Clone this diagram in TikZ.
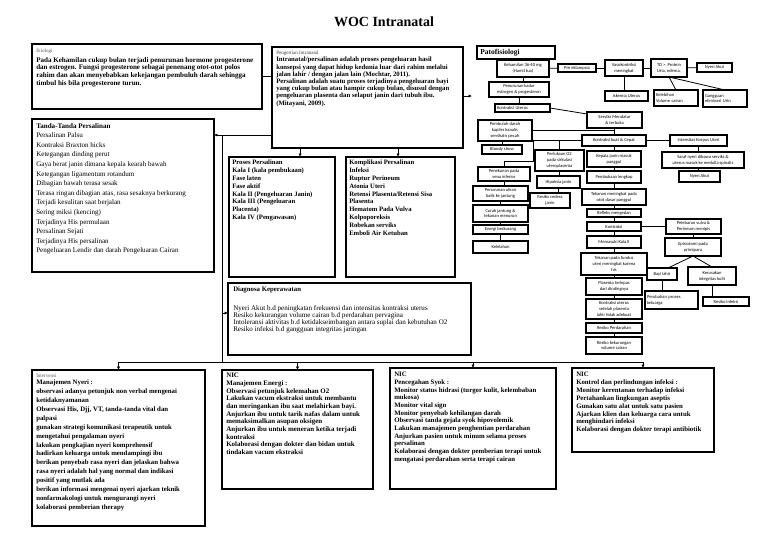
\documentclass[tikz,border=0pt]{standalone}
\usepackage{fontspec}
\setmainfont{Liberation Serif}
\newfontfamily\calib{Carlito}
\usetikzlibrary{arrows.meta,calc}
\tikzset{
  bx/.style={draw=black, line width=0.85pt, inner sep=0pt, outer sep=0pt},
  pb/.style={draw=black, line width=0.9pt, inner sep=0pt, outer sep=0pt, align=center,
     font=\calib\fontsize{3.4}{4.4}\selectfont},
  tx/.style={anchor=north west, inner sep=0pt, align=left},
  cn/.style={draw=black, line width=0.6pt},
  arr/.style={cn, -{Latex[length=2.6pt,width=2.4pt]}},
}
\newcommand\BX[5]{%
  \pgfmathsetmacro\BXw{(#4-#2)*0.75}%
  \pgfmathsetmacro\BXh{(#5-#3)*0.75}%
  \node[bx, minimum width=\BXw pt, minimum height=\BXh pt] (#1) at ({(#2+#4)/2},{(#3+#5)/2}) {};}
\newcommand\PB[6]{%
  \pgfmathsetmacro\PBw{(#4-#2)*0.75}%
  \pgfmathsetmacro\PBh{(#5-#3)*0.75}%
  \node[pb, minimum width=\PBw pt, minimum height=\PBh pt] (#1) at ({(#2+#4)/2},{(#3+#5)/2}) {#6};}
\newcommand\PBL[6]{%
  \pgfmathsetmacro\PBw{(#4-#2)*0.75}%
  \pgfmathsetmacro\PBh{(#5-#3)*0.75}%
  \pgfmathsetmacro\PBt{(#4-#2)*0.75-3}%
  \node[pb, align=left, text width=\PBt pt, minimum width=\PBw pt, minimum height=\PBh pt] (#1) at ({(#2+#4)/2},{(#3+#5)/2}) {#6};}
\begin{document}
\begin{tikzpicture}[x=0.75pt,y=-0.75pt]
\useasboundingbox (0,0) rectangle (768,543);
\fill[white] (0,0) rectangle (768,543);

\node[font=\fontsize{10.5}{12.5}\selectfont\bfseries] (title) at (384,22) {WOC Intranatal};

% ---------- Etiologi
\BX{etio}{32}{44}{262}{109}
\node[tx, font=\fontsize{3.8}{4.5}\selectfont, text=black!65] (etiol) at (36,49) {Etiologi};
\node[tx, font=\fontsize{5.3}{5.8}\selectfont\bfseries] (etiot) at (36,57) {Pada Kehamilan cukup bulan terjadi penurunan hormone progesterone\\dan estrogen. Fungsi progesterone sebagai penenang otot-otot polos\\rahim dan akan menyebabkan kekejangan pembuluh darah sehingga\\timbul his bila progesterone turun.};

% ---------- Pengertian
\BX{peng}{272}{47}{463}{148}
\node[tx, font=\fontsize{3.8}{4.5}\selectfont, text=black!75] (pengl) at (276,51) {Pengertian Intranatal};
\node[tx, font=\fontsize{5.05}{5.4}\selectfont\bfseries] (pengt) at (276,57) {Intranatal/persalinan adalah proses pengeluaran hasil\\konsepsi yang dapat hidup kedunia luar dari rahim melalui\\jalan lahir / dengan jalan lain (Mochtar, 2011).\\Persalinan adalah suatu proses terjadinya pengeluaran bayi\\yang cukup bulan atau hampir cukup bulan, disusul dengan\\pengeluaran plasenta dan selaput janin dari tubuh ibu.\\(Mitayani, 2009).};

% ---------- Tanda-tanda
\BX{tanda}{32}{119}{214}{272}
\node[tx, font=\fontsize{5.3}{7.2}\selectfont] (tandat) at (36,123) {{\bfseries Tanda-Tanda Persalinan}\\Persalinan Palsu\\Kontraksi Braxton hicks\\Ketegangan dinding perut\\Gaya berat janin dimana kepala kearah bawah\\Ketegangan ligamentum rotandum\\Dibagian bawah terasa sesak\\Terasa ringan dibagian atas, rasa sesaknya berkurang\\Terjadi kesulitan saat berjalan\\Sering miksi (kencing)\\Terjadinya His permulaan\\Persalinan Sejati\\Terjadinya His persalinan\\Pengeluaran Lendir dan darah Pengeluaran Cairan};

% ---------- Proses / Komplikasi
\BX{proses}{229}{157}{335}{277}
\node[tx, font=\fontsize{5}{5.85}\selectfont\bfseries] (prosest) at (232,160) {Proses Persalinan\\Kala I (kala pembukaan)\\Fase laten\\Fase aktif\\Kala II (Pengeluaran Janin)\\Kala III (Pengeluaran\\Placenta)\\Kala IV (Pengawasan)};
\BX{komp}{346}{157}{455}{277}
\node[tx, font=\fontsize{5}{5.85}\selectfont\bfseries] (kompt) at (349,160) {Komplikasi Persalinan\\Infeksi\\Ruptur Perineum\\Atonia Uteri\\Retensi Plasenta/Retensi Sisa\\Plasenta\\Hematom Pada Vulva\\Kolpoporeksis\\Robekan serviks\\Emboli Air Ketuban};

% ---------- Diagnosa
\BX{diag}{228}{283}{471}{355}
\node[tx, font=\fontsize{5.1}{5.25}\selectfont\bfseries] (diagh) at (233,287) {Diagnosa Keperawatan};
\node[tx, font=\fontsize{5.3}{5.25}\selectfont] (diagt) at (233,305) {Nyeri Akut b.d peningkatan frekuensi dan intensitas kontraksi uterus\\Resiko kekurangan volume cairan b.d perdarahan pervagina\\Intoleransi aktivitas b.d ketidakseimbangan antara suplai dan kebutuhan O2\\Resiko infeksi b.d gangguan integritas jaringan};

% ---------- Bottom boxes
\BX{intv}{32}{370}{205}{526}
\node[tx, font=\fontsize{3.8}{4.5}\selectfont, text=black!65] (intvl) at (36,374) {Intervensi};
\node[tx, font=\fontsize{5.1}{6.65}\selectfont\bfseries] (intvt) at (36,380) {Manajemen Nyeri :\\observasi adanya petunjuk non verbal mengenai\\ketidaknyamanan\\Observasi His, Djj, VT, tanda-tanda vital dan\\palpasi\\gunakan strategi komunikasi terapeutik untuk\\mengetahui pengalaman nyeri\\lakukan pengkajian nyeri komprehensif\\hadirkan keluarga untuk mendampingi ibu\\berikan penyebab rasa nyeri dan jelaskan bahwa\\rasa nyeri adalah hal yang normal dan indikasi\\positif yang mutlak ada\\berikan informasi mengenai nyeri ajarkan teknik\\nonfarmakologi untuk mengurangi nyeri\\kolaborasi pemberian therapy};

\BX{nica}{222}{370}{373}{489}
\node[tx, font=\fontsize{5.2}{5.75}\selectfont\bfseries] (nicat) at (226,373) {NIC\\Manajemen Energi :\\Observasi petunjuk kelemahan O2\\Lakukan vacum ekstraksi untuk membantu\\dan meringankan ibu saat melahirkan bayi.\\Anjurkan ibu untuk tarik nafas dalam untuk\\memaksimalkan asupan oksigen\\Anjurkan ibu untuk meneran ketika terjadi\\kontraksi\\Kolaborasi dengan dokter dan bidan untuk\\tindakan vacum ekstraksi};

\BX{nicb}{390}{368}{556}{489}
\node[tx, font=\fontsize{5.1}{5.75}\selectfont\bfseries] (nicbt) at (394,372) {NIC\\Pencegahan Syok :\\Monitor status hidrasi (turgor kulit, kelembaban\\mukosa)\\Monitor vital sign\\Monitor penyebab kehilangan darah\\Observasi tanda gejala syok hipovolemik\\Lakukan manajemen penghentian perdarahan\\Anjurkan pasien untuk minum selama proses\\persalinan\\Kolaborasi dengan dokter pemberian terapi untuk\\mengatasi perdarahan serta terapi cairan};

\BX{nicc}{572}{368}{714}{452}
\node[tx, font=\fontsize{5.1}{5.9}\selectfont\bfseries] (nicct) at (576,372) {NIC\\Kontrol dan perlindungan infeksi :\\Monitor kerentanan terhadap infeksi\\Pertahankan lingkungan aseptis\\Gunakan satu alat untuk satu pasien\\Ajarkan klien dan keluarga cara untuk\\menghindari infeksi\\Kolaborasi dengan dokter terapi antibiotik};

% ---------- Left connectors
\draw[cn] (etio.east) -- (peng.west |- etio.east);
\coordinate (j1) at (222,135);
\coordinate (j2) at (222,362);
\draw[cn] (peng.west |- j1) -- (j1);
\draw[arr] (j1) -- (tanda.east |- j1);
\draw[cn] (j1) -- (j2);
\path ([yshift=4.5pt]diag.west) coordinate (d1);
\draw[arr] (j1 |- d1) -- (d1);
\draw[cn] (intv.north |- j2) -- (nicc.north |- j2);
\foreach \n in {intv,nica,nicb,nicc} \draw[arr] (\n.north |- j2) -- (\n.north);
\path ($(peng.south west)!0.147!(peng.south east)$) coordinate (a1);
\path ($(peng.south west)!0.66!(peng.south east)$) coordinate (a2);
\draw[arr] (a1) -- (a1 |- proses.north);
\draw[arr] (a2) -- (a2 |- komp.north);
\coordinate (j3) at (472,96);
\draw[arr] (peng.east |- j3) -- (j3);

% ---------- Patofisiologi
\BX{pato}{477}{46}{555}{59}
\node[tx, anchor=west, font=\fontsize{5.6}{6}\selectfont\bfseries] (patot) at (480,52.5) {Patofisiologi};
\PB{keh}{497}{60}{549}{77}{Kehamilan 36-40 mg\\(Hamil tua)}
\PB{pre}{558}{64}{596}{72}{Pre eklampsia}
\PB{vaso}{605}{60}{643}{76}{Vasokontriksi\\meningkat}
\PB{td}{651}{59}{687}{77}{TD >, Protein\\Uria, edema,}
\PB{nya}{697}{63}{732}{72}{Nyeri Akut}
\PB{pen}{489}{82}{549}{97}{Penurunan kadar\\estrogen \& progesteron}
\PB{isk}{605}{91}{648}{101}{Iskemia Uterus}
\PBL{kel}{654}{90}{698}{106}{Kelebihan\\Volume cairan}
\PBL{gan}{703}{90}{747}{107}{Gangguan\\eliminasi Urin}
\PBL{ku}{495}{104}{550}{112}{Kontraksi Uterus}
\PB{ser}{587}{112}{642}{128}{Serviks Mendatar\\\& terbuka}
\PB{pd}{478}{120}{532}{141}{Pembuluh darah\\kapiler kanalis\\servikalis pecah}
\PB{bs}{482}{145}{522}{154}{Bloody show}
\PB{kk}{582}{135}{646}{146}{Kontraksi kuat \& Cepat}
\PB{iku}{670}{135}{727}{146}{Intensitas Korpus Uteri}
\PB{po2}{535}{150}{584}{171}{Perlukaan O2\\pada sirkulasi\\uteroplasenta}
\PB{kj}{587}{151}{641}{167}{Kepala janin masuk\\panggul}
\PB{sn}{662}{152}{744}{168}{Saraf nyeri dibawa serviks \&\\uterus masuk ke medulla spinalis}
\PB{pv}{478}{167}{530}{181}{Penekanan pada\\vena inferior}
\PB{hj}{537}{176}{580}{188}{Hipoksia janin}
\PB{pl}{587}{171}{641}{183}{Pembukaan lengkap}
\PB{nyb}{679}{171}{720}{182}{Nyeri Akut}
\PB{pab}{473}{186}{528}{201}{Penurunan aliran\\balik ke jantung}
\PB{rcj}{530}{193}{570}{208}{Resiko cedera\\janin}
\PB{tm}{582}{189}{646}{205}{Tekanan meningkat pada\\otot dasar panggul}
\PB{cj}{473}{205}{528}{222}{Curah jantung \&\\tekanan menurun}
\PB{rm}{587}{209}{641}{217}{Refleks mengedan}
\PB{eb}{473}{225}{528}{234}{Energi berkurang}
\PB{kon}{587}{222}{641}{231}{Kontraksi}
\PB{pvp}{666}{219}{721}{234}{Pelebaran vulva \&\\Perineum menipis}
\PB{kll}{473}{241}{528}{253}{Kelelahan}
\PB{mk}{587}{236}{641}{248}{Memasuki Kala II}
\PB{epi}{665}{238}{721}{256}{Episiotomi pada\\primipara}
\PB{tf}{581}{253}{647}{275}{Tekanan pada fundus\\uteri meningkat karena\\his}
\PB{bl}{647}{268}{677}{280}{Bayi lahir}
\PB{kik}{688}{267}{736}{285}{Kerusakan\\integritas kulit}
\PB{pt}{586}{278}{642}{295}{Plasenta terlepas\\dari dindingnya}
\PBL{ppk}{645}{291}{698}{309}{Perubahan proses\\keluarga}
\PB{ri}{703}{297}{749}{306}{Resiko Infeksi}
\PB{kua}{586}{299}{642}{319}{Kontraksi uterus\\setelah plasenta\\lahir tidak adekuat}
\PB{rp}{586}{323}{642}{333}{Resiko Perdarahan}
\PB{rkv}{586}{337}{642}{354}{Resiko kekurangan\\volume cairan}

% ---------- Patofisiologi connectors
\draw[cn] (keh) -- (pre);
\draw[cn] (pre) -- (vaso);
\draw[cn] (vaso) -- (td);
\draw[cn] (td) -- (nya);
\draw[cn] (vaso.south) -- (vaso.south |- isk.north);
\draw[cn] (td.south) -- (kel.north);
\draw[cn] (td.south) -- (gan.north);
\draw[cn] (keh.south) -- (keh.south |- pen.north);
\draw[cn] (pen.south) -- (pen.south |- ku.north);
\draw[cn] (ku.east) -- ([yshift=-1.5pt]ser.north west);
\draw[cn] (ser.south) -- (ser.south |- kk.north);
\draw[cn] (pd.east) -- (pd.east -| ser.south);
\draw[cn] (bs.north |- pd.south) -- (bs.north);
\draw[cn] (kk) -- (iku);
\coordinate (j4) at (533,161);
\draw[cn] (kk.west) -| (j4) -| (pv.north);
\draw[cn] (po2.north |- kk.west) -- (po2.north);
\foreach \a/\b in {kk/kj,kj/pl,pl/tm,tm/rm,rm/kon,kon/mk,mk/tf,tf/pt,pt/kua,kua/rp,rp/rkv}
  \draw[cn] (\a.south) -- (\a.south |- \b.north);
\draw[cn] (iku.south) -- (iku.south |- sn.north);
\draw[cn] (iku.south |- sn.south) -- (iku.south |- nyb.north);
\draw[cn] (po2.south) -- (po2.south |- hj.north);
\draw[cn] (hj.south) -- (hj.south |- rcj.north);
\draw[cn] (pv.south) -- (pv.south |- pab.north);
\foreach \a/\b in {pab/cj,cj/eb,eb/kll}
  \draw[cn] (\a.south) -- (\a.south |- \b.north);
\draw[cn] (kon.east) -- (kon.east -| pvp.west);
\draw[cn] (pvp.south) -- (pvp.south |- epi.north);
\draw[cn] (epi.south) -- ($(bl.north)!0.4!(bl.north east)$);
\draw[cn] (epi.south) -- (kik.north);
\draw[cn] (bl.south) -- (bl.south |- ppk.north);
\draw[cn] (kik.south) -- (kik.south |- ri.north);
\end{tikzpicture}
\end{document}
